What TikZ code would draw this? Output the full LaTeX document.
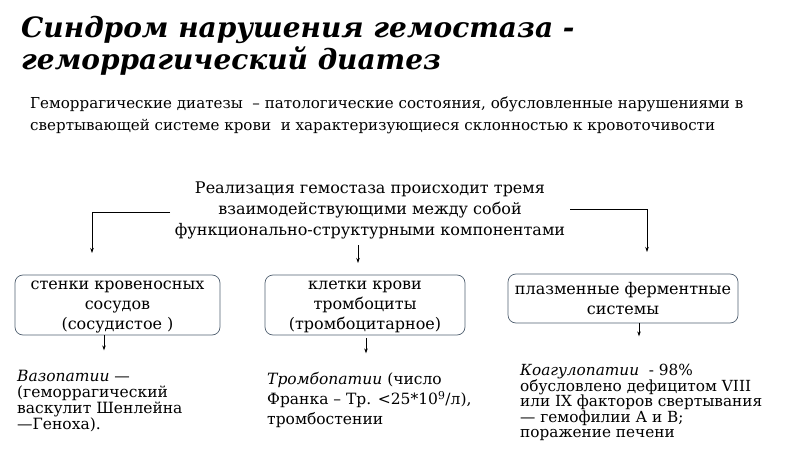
\documentclass[tikz,border=0pt]{standalone}
\usepackage{fontspec}
\setmainfont{DejaVu Serif}
\newfontfamily\deffont{DejaVu Serif}
\usetikzlibrary{arrows.meta,positioning}
\definecolor{boxline}{RGB}{80,95,112}

\begin{document}
\begin{tikzpicture}[x=1pt, y=-1pt,
        box/.style={draw=boxline, rounded corners=8pt, line width=0.7pt, align=center,
                inner ysep=0pt, font=\fontsize{16}{20}\selectfont},
        arr/.style={-{Stealth[length=5pt, width=3.5pt]}, line width=0.7pt},
        note/.style={anchor=north west, align=left, inner sep=0pt}]
        \useasboundingbox (0, 0) rectangle (800, 449);
        % heading
        \node[note, font=\fontsize{28}{32.5}\selectfont\bfseries\itshape] (title) at (21, 16)
                {Синдром нарушения гемостаза -\\геморрагический диатез};
        \node[note, font=\deffont\fontsize{15.1}{22}\selectfont] (defn) at (30, 97)
                {Геморрагические диатезы \ – патологические состояния, обусловленные нарушениями в\\
                 свертывающей системе крови \ и характеризующиеся склонностью к кровоточивости};
        % three components
        \node[align=center, font=\fontsize{16}{21}\selectfont] (real) at (370, 210)
                {Реализация гемостаза происходит тремя\\взаимодействующими между собой\\
                 функционально-структурными компонентами};
        \node[box, minimum width=205pt, minimum height=60pt, text depth=-5pt] (vessel) at (117.5, 305)
                {стенки кровеносных\\сосудов\\(сосудистое )};
        \node[box, minimum width=200pt, minimum height=60pt, text depth=-5pt] (plate) at (365, 305)
                {клетки крови\\тромбоциты\\(тромбоцитарное)};
        \node[box, minimum width=230pt, minimum height=49pt, text depth=-4pt] (plasma) at (623, 298.5)
                {плазменные ферментные\\системы};
        % connectors
        \coordinate (lstart) at (170, 212);
        \coordinate (lend) at (92, 253);
        \coordinate (mstart) at (358, 245);
        \coordinate (mend) at (358, 263);
        \coordinate (rstart) at (570, 209);
        \coordinate (rend) at (647, 252);
        \draw[arr] (lstart) -| (lend);
        \draw[arr] (mstart) -- (mend);
        \draw[arr] (rstart) -| (rend);
        \draw[arr] (vessel.south -| 104, 0) -- ++(0, 15);
        \draw[arr] (plate.south -| 366, 0) ++(0, 3) -- ++(0, 15);
        \draw[arr] (plasma.south -| 639, 0) -- ++(0, 13);
        % disorders
        \node[note, font=\fontsize{15.5}{16}\selectfont] (vaso) at (17, 370)
                {\textit{Вазопатии} —\\(геморрагический\\васкулит Шенлейна\\—Геноха).};
        \node[note, font=\fontsize{15.5}{20}\selectfont] (thrombo) at (267, 372)
                {\textit{Тромбопатии} (число\\Франка – Тр. <25*10\textsuperscript{9}/л),\\тромбостении};
        \node[note, font=\fontsize{15.3}{15.5}\selectfont] (coag) at (520, 364)
                {\textit{Коагулопатии} \ - 98\%\\обусловлено дефицитом VIII\\или IX факторов свертывания\\
                 — гемофилии А и В;\\поражение печени};
\end{tikzpicture}
\end{document}
